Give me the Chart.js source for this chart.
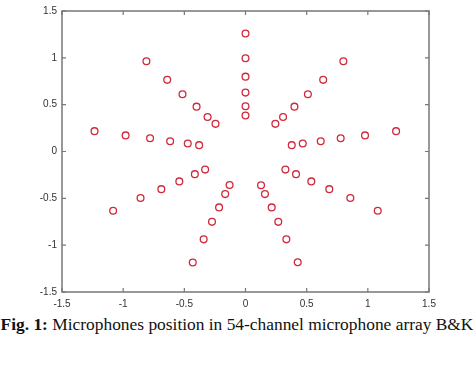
<!DOCTYPE html>
<html>
<head>
<meta charset="utf-8">
<script src="https://cdn.jsdelivr.net/npm/chart.js@4.4.1/dist/chart.umd.min.js"></script>
<style>
  html, body { margin: 0; padding: 0; background: #fff; }
  #wrap { width: 474px; height: 312px; position: relative; }
  #cap { width: 474px; height: 24px; line-height: 24px; text-align: center; white-space: nowrap;
         font-family: "Liberation Serif", "Times New Roman", serif; font-size: 17.4px; color: #111; }
</style>
</head>
<body>
<div id="wrap"><canvas id="c" width="474" height="312"></canvas></div>
<div id="cap"><b>Fig. 1:</b> Microphones position in 54-channel microphone array B&amp;K</div>
<script>
// Microphone coordinates (9 arms x 6 mics)
const micX = [
  -0.81, -0.64, -0.515, -0.40, -0.31, -0.245,
   0.80,  0.635, 0.51,  0.40,  0.307, 0.244,
   0.0,   0.0,   0.0,   0.0,   0.0,   0.0,
  -1.234, -0.98, -0.78, -0.616, -0.472, -0.379,
   1.231,  0.977, 0.778, 0.615, 0.468, 0.378,
  -1.082, -0.858, -0.688, -0.541, -0.414, -0.33,
   1.081,  0.857, 0.685, 0.538, 0.413, 0.326,
  -0.13, -0.166, -0.216, -0.274, -0.342, -0.431,
   0.127, 0.159, 0.214, 0.268, 0.334, 0.427
];
const micY = [
   0.963, 0.765, 0.611, 0.479, 0.368, 0.295,
   0.963, 0.765, 0.611, 0.479, 0.368, 0.295,
   1.259, 0.995, 0.799, 0.629, 0.483, 0.385,
   0.217, 0.172, 0.141, 0.110, 0.086, 0.068,
   0.217, 0.172, 0.141, 0.110, 0.086, 0.068,
  -0.632, -0.496, -0.402, -0.319, -0.242, -0.193,
  -0.632, -0.496, -0.402, -0.319, -0.242, -0.193,
  -0.358, -0.455, -0.597, -0.751, -0.938, -1.185,
  -0.360, -0.455, -0.597, -0.751, -0.938, -1.183
];
const xTickLabels = ['-1.5', '-1', '-0.5', '0', '0.5', '1', '1.5'];
const yTickLabels = ['-1.5', '-1', '-0.5', '0', '0.5', '1', '1.5'];
const tickValues = [-1.5, -1, -0.5, 0, 0.5, 1, 1.5];

const points = micX.map((x, i) => ({ x: x, y: micY[i] }));

const frame = {
  id: 'frame',
  afterDraw(chart) {
    const { ctx, chartArea: a, scales } = chart;
    ctx.save();
    ctx.strokeStyle = '#777';
    ctx.lineWidth = 1.5;
    ctx.strokeRect(a.left, a.top, a.right - a.left, a.bottom - a.top);
    ctx.lineWidth = 1.2;
    const L = 4;
    ctx.beginPath();
    tickValues.forEach(v => {
      const px = scales.x.getPixelForValue(v);
      ctx.moveTo(px, a.bottom); ctx.lineTo(px, a.bottom - L);
      ctx.moveTo(px, a.top); ctx.lineTo(px, a.top + L);
      const py = scales.y.getPixelForValue(v);
      ctx.moveTo(a.left, py); ctx.lineTo(a.left + L, py);
      ctx.moveTo(a.right, py); ctx.lineTo(a.right - L, py);
    });
    ctx.stroke();
    ctx.restore();
  }
};

new Chart(document.getElementById('c'), {
  type: 'scatter',
  data: {
    datasets: [{
      data: points,
      pointStyle: 'circle',
      pointRadius: 3.4,
      pointHoverRadius: 3.4,
      borderWidth: 1.3,
      borderColor: '#d0283c',
      backgroundColor: 'rgba(0,0,0,0)'
    }]
  },
  options: {
    responsive: false,
    animation: false,
    events: [],
    layout: { padding: { left: 0, top: 5, right: 45, bottom: 0 } },
    plugins: { legend: { display: false }, tooltip: { enabled: false } },
    scales: {
      x: {
        type: 'linear', min: -1.5, max: 1.5,
        afterBuildTicks: s => { s.ticks = tickValues.map(v => ({ value: v })); },
        ticks: {
          callback: (v, i) => xTickLabels[i],
          font: { family: 'Liberation Sans, Arial, sans-serif', size: 10 },
          color: '#333', padding: 6, maxRotation: 0, autoSkip: false
        },
        grid: { display: false, drawTicks: false },
        border: { display: false },
        afterFit: s => { s.height = 20; }
      },
      y: {
        type: 'linear', min: -1.5, max: 1.5,
        afterBuildTicks: s => { s.ticks = tickValues.map(v => ({ value: v })); },
        ticks: {
          callback: (v, i) => yTickLabels[i],
          font: { family: 'Liberation Sans, Arial, sans-serif', size: 10 },
          color: '#333', padding: 5, autoSkip: false
        },
        grid: { display: false, drawTicks: false },
        border: { display: false },
        afterFit: s => { s.width = 62; }
      }
    }
  },
  plugins: [frame]
});
</script>
</body>
</html>
